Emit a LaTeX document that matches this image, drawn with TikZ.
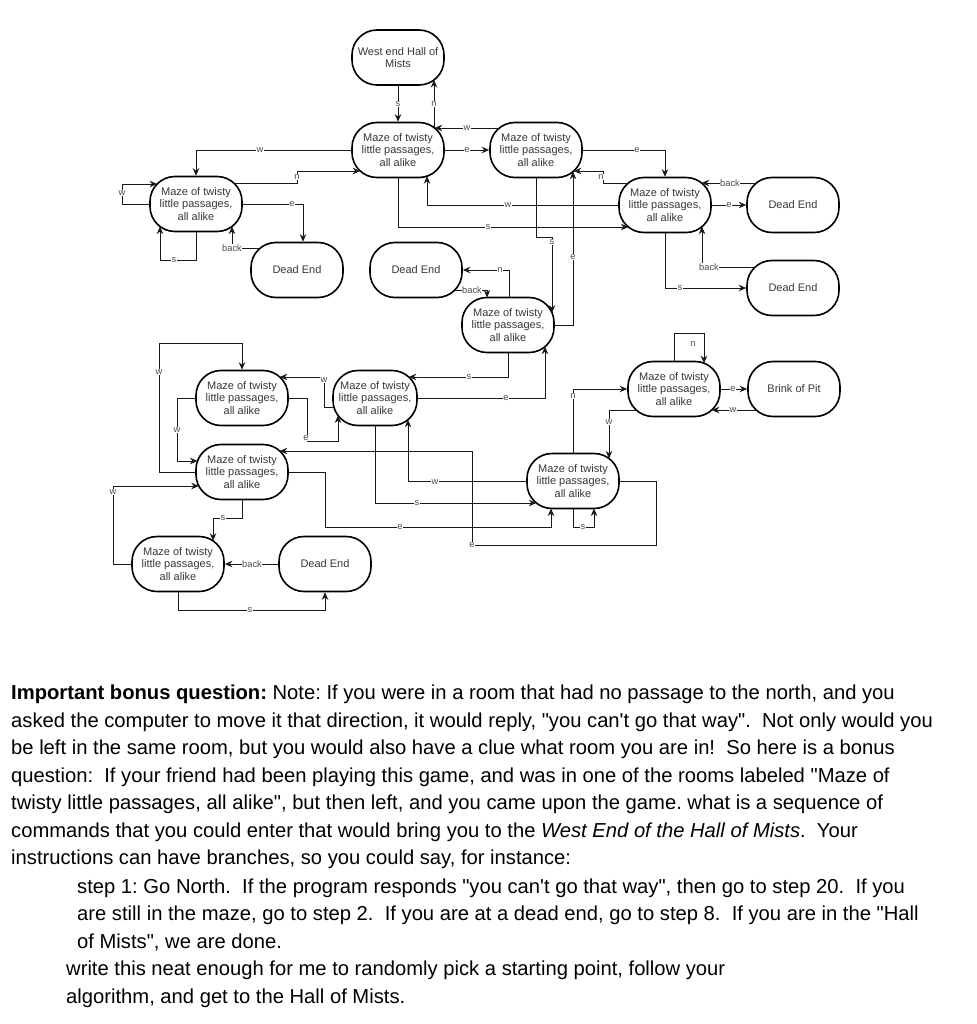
\documentclass[tikz,border=0pt]{standalone}
\usepackage{fontspec}
\newfontfamily\arial{Liberation Sans}
\usetikzlibrary{arrows.meta,calc}
\frenchspacing
\begin{document}
\begin{tikzpicture}[x=1pt,y=-1pt,
  room/.style={draw=black, line width=1.6pt, rounded corners=25pt, minimum width=92pt, minimum height=55pt, inner sep=0pt, align=center, font=\arial\fontsize{11}{12.8}\selectfont, text=black!78},
  conn/.style={line width=0.85pt, draw=black!90, -{Stealth[length=7.5pt,width=6.5pt]}},
  lab/.style={fill=white, inner sep=0.6pt, font=\arial\fontsize{9.3}{10}\selectfont, text=black!70},
  body/.style={anchor=base west, inner sep=0pt, font=\arial\fontsize{20.2}{22}\selectfont}
]
\useasboundingbox[fill=white] (0,0) rectangle (976,1024);
% rooms
\node[room] (A) at (398,57.5) {West end Hall of\\Mists};
\node[room] (M1) at (398,150) {Maze of twisty\\little passages,\\all alike};
\node[room] (M2) at (536,150) {Maze of twisty\\little passages,\\all alike};
\node[room] (M3) at (196,204) {Maze of twisty\\little passages,\\all alike};
\node[room] (D1) at (297,270) {Dead End};
\node[room] (D2) at (416,270) {Dead End};
\node[room] (M4) at (665,205) {Maze of twisty\\little passages,\\all alike};
\node[room] (D3) at (793,205) {Dead End};
\node[room] (D4) at (793,288) {Dead End};
\node[room] (M5) at (508,325) {Maze of twisty\\little passages,\\all alike};
\node[room] (M6) at (242,398) {Maze of twisty\\little passages,\\all alike};
\node[room, minimum width=84pt] (M7) at (375,398) {Maze of twisty\\little passages,\\all alike};
\node[room] (M8) at (242,472) {Maze of twisty\\little passages,\\all alike};
\node[room] (M9) at (178,564) {Maze of twisty\\little passages,\\all alike};
\node[room] (D5) at (325,564) {Dead End};
\node[room] (M10) at (674,389) {Maze of twisty\\little passages,\\all alike};
\node[room] (B) at (794,389) {Brink of Pit};
\node[room] (M11) at (573,481) {Maze of twisty\\little passages,\\all alike};
% connectors
\draw[conn] (A.south) -- (M1.north);
\draw[conn] ($(M1.center)+(36,-22.5)$) -- ($(A.center)+(36,22.5)$);
\draw[conn] ($(M2.center)+(-36.6,-22)$) -- ($(M1.center)+(36.6,-22)$);
\draw[conn] (M1.east) -- (M2.west);
\draw[conn] (M1.west) -| (M3.north);
\draw[conn] ($(M3.center)+(37.8,-21)$) -- (297,183) -- (297,171) -- ($(M1.center)+(-37.8,21)$);
\draw[conn] (M3.west) -- (122,204) -- (122,184) -- ($(M3.center)+(-38.9,-20)$);
\draw[conn] (M3.east) -| ($(D1.north)+(6,0)$);
\draw[conn] (M3.south) -- (196,260) -- (160,260) -- ($(M3.center)+(-36,22.5)$);
\draw[conn] ($(D1.center)+(-36.6,-22)$) -- (232,248) -- ($(M3.center)+(36,22.5)$);
\draw[conn] (M2.east) -| (M4.north);
\draw[conn] ($(M4.center)+(-36.6,-22)$) -- (603,183) -- (603,171) -- ($(M2.center)+(37.8,21)$);
\draw[conn] ($(D3.center)+(-36.6,-22)$) -- ($(M4.center)+(36.6,-22)$);
\draw[conn] (M4.east) -- (D3.west);
\draw[conn] (M4.west) -- (427,205) -- ($(M1.center)+(29,26.2)$);
\draw[conn] (M1.south) -- (398,227) -- ($(M4.center)+(-36.6,22)$);
\draw[conn] (M2.south) -- (536,237) -- (552,237) -- ($(M5.center)+(44,-12.3)$);
\draw[conn] (M5.east) -- (573,325) -- ($(M2.center)+(37,21.7)$);
\draw[conn] ($(M5.north)+(1,0)$) |- (D2.east);
\draw[conn] ($(D2.center)+(38.9,20)$) -- (487,290) -- ($(M5.center)+(-21,-27.5)$);
\draw[conn] (M4.south) |- (D4.west);
\draw[conn] ($(D4.center)+(-37.8,-21)$) -- (702,267) -- ($(M4.center)+(37,21.7)$);
\draw[conn] (M5.south) -- (508,377) -- ($(M7.center)+(33.8,-21)$);
\draw[conn] (M7.east) -- (545,398) -- ($(M5.center)+(37,21.7)$);
\draw[conn] ($(M7.center)+(-41.1,9)$) -- (324,407) -- (324,377) -- ($(M6.center)+(37.8,-21)$);
\draw[conn] (M6.east) -- (307,398) -- (307,441) -- (338,441) -- ($(M7.center)+(-37,17.5)$);
\draw[conn] (M6.west) -- (177,398) -- (177,461) -- ($(M8.center)+(-44.5,-11)$);
\draw[conn] (M8.west) -- (159,472) -- (159,343) -- (242,343) -- (M6.north);
\draw[conn] (M9.west) -- (113,564) -- (113,486) -- ($(M8.center)+(-43.2,14)$);
\draw[conn] (M8.south) -- (242,518) -- (213,518) -- ($(M9.center)+(35,-23.2)$);
\draw[conn] (D5.west) -- (M9.east);
\draw[conn] (M9.south) -- (178,610) -- (325,610) -- (D5.south);
\draw[conn] (M11.east) -- (656,481) -- (656,545) -- (472,545) -- (472,451) -- ($(M8.center)+(37.8,-21)$);
\draw[conn] (M8.east) -- (325,472) -- (325,527) -- (551,527) -- ($(M11.center)+(-22,27.5)$);
\draw[conn] (M7.south) -- (375,503) -- ($(M11.center)+(-36.6,22)$);
\draw[conn] (M11.west) -- (408,481) -- ($(M7.center)+(33,21.7)$);
\draw[conn] (M11.south) -- (573,527) -- (594,527) -- ($(M11.center)+(21,27.5)$);
\draw[conn] (M11.north) |- (M10.west);
\draw[conn] ($(M10.center)+(-37.8,21)$) -- (609,410) -- ($(M11.center)+(36,-22.5)$);
\draw[conn] (M10.north) -- (674,333) -- (704,333) -- ($(M10.center)+(30,-25.8)$);
\draw[conn] (M10.east) -- (B.west);
\draw[conn] ($(B.center)+(-37.8,21)$) -- ($(M10.center)+(37.8,21)$);
% labels
\node[lab] (l1) at (398,104) {s};
\node[lab] (l2) at (434,104) {n};
\node[lab] (l3) at (467,128) {w};
\node[lab] (l4) at (467,150) {e};
\node[lab] (l5) at (260,150) {w};
\node[lab] (l6) at (297,177) {n};
\node[lab] (l7) at (122,193) {w};
\node[lab] (l8) at (292,204) {e};
\node[lab] (l9) at (174,260) {s};
\node[lab] (l10) at (232,248) {back};
\node[lab] (l11) at (637,150) {e};
\node[lab] (l12) at (601,177) {n};
\node[lab] (l13) at (730,183) {back};
\node[lab] (l14) at (729,205) {e};
\node[lab] (l15) at (508,205) {w};
\node[lab] (l16) at (488,227) {s};
\node[lab] (l17) at (552,242) {s};
\node[lab] (l18) at (573,257) {e};
\node[lab] (l19) at (500,270) {n};
\node[lab] (l20) at (472,290) {back};
\node[lab] (l21) at (709,267) {back};
\node[lab] (l22) at (680,288) {s};
\node[lab] (l23) at (469,377) {s};
\node[lab] (l24) at (506,398) {e};
\node[lab] (l25) at (324,380) {w};
\node[lab] (l26) at (306,438) {e};
\node[lab] (l27) at (177,430) {w};
\node[lab] (l28) at (159,372) {w};
\node[lab] (l29) at (113,492) {w};
\node[lab] (l30) at (223,518) {s};
\node[lab] (l31) at (252,564) {back};
\node[lab] (l32) at (250,610) {s};
\node[lab] (l33) at (472,545) {e};
\node[lab] (l34) at (400,527) {e};
\node[lab] (l35) at (417,503) {s};
\node[lab] (l36) at (435,482) {w};
\node[lab] (l37) at (583,527) {s};
\node[lab] (l38) at (573,396) {n};
\node[lab] (l39) at (609,422) {w};
\node[lab] (l40) at (693,344) {n};
\node[lab] (l41) at (733,389) {e};
\node[lab] (l42) at (733,410) {w};
% body text
\node[body] (t1) at (11,699) {\textbf{Important bonus question:} Note: If you were in a room that had no passage to the north, and you};
\node[body] (t2) at (11,727) {asked the computer to move it that direction, it would reply, "you can't go that way".~ Not only would you};
\node[body] (t3) at (11,754) {be left in the same room, but you would also have a clue what room you are in!~ So here is a bonus};
\node[body] (t4) at (11,782) {question:~ If your friend had been playing this game, and was in one of the rooms labeled "Maze of};
\node[body] (t5) at (11,809) {twisty little passages, all alike", but then left, and you came upon the game. what is a sequence of};
\node[body] (t6) at (11,837) {commands that you could enter that would bring you to the \textit{West End of the Hall of Mists}.~ Your};
\node[body] (t7) at (11,864) {instructions can have branches, so you could say, for instance:};
\node[body] (t8) at (77,893) {step 1: Go North.~ If the program responds "you can't go that way", then go to step 20.~ If you};
\node[body] (t9) at (77,920) {are still in the maze, go to step 2.~ If you are at a dead end, go to step 8.~ If you are in the "Hall};
\node[body] (t10) at (77,948) {of Mists", we are done.};
\node[body] (t11) at (66,975) {write this neat enough for me to randomly pick a starting point, follow your};
\node[body] (t12) at (66,1003) {algorithm, and get to the Hall of Mists.};
\end{tikzpicture}
\end{document}
